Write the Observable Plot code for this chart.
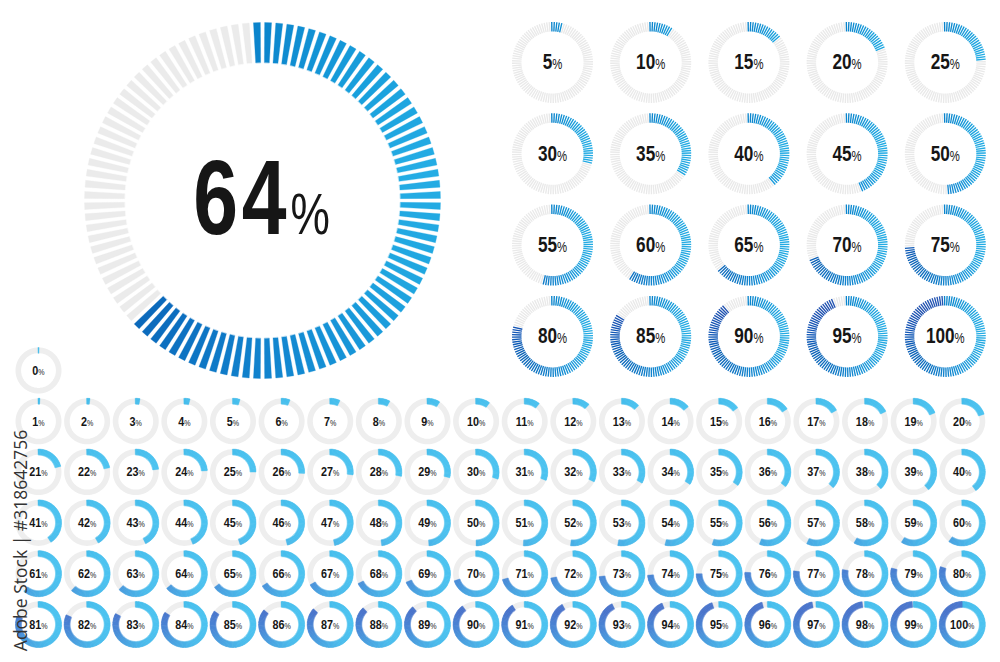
<!DOCTYPE html>
<html><head><meta charset="utf-8">
<script src="https://cdn.jsdelivr.net/npm/d3@7"></script>
<script src="https://cdn.jsdelivr.net/npm/@observablehq/plot@0.6"></script>
<style>html,body{margin:0;padding:0;background:#fff;overflow:hidden} svg{display:block}</style>
</head><body><div id="chart"></div>
<script>
// ---- data ----
const bigValue = 64;
const mediumValues = [5, 10, 15, 20, 25, 30, 35, 40, 45, 50, 55, 60, 65, 70, 75, 80, 85, 90, 95, 100];
const smallValues = [0,
  1, 2, 3, 4, 5, 6, 7, 8, 9, 10, 11, 12, 13, 14, 15, 16, 17, 18, 19, 20,
  21, 22, 23, 24, 25, 26, 27, 28, 29, 30, 31, 32, 33, 34, 35, 36, 37, 38, 39, 40,
  41, 42, 43, 44, 45, 46, 47, 48, 49, 50, 51, 52, 53, 54, 55, 56, 57, 58, 59, 60,
  61, 62, 63, 64, 65, 66, 67, 68, 69, 70, 71, 72, 73, 74, 75, 76, 77, 78, 79, 80,
  81, 82, 83, 84, 85, 86, 87, 88, 89, 90, 91, 92, 93, 94, 95, 96, 97, 98, 99, 100];
const segmentCount = 100;
const watermark = "Adobe Stock | #318642756";

// ---- styles / layout ----
const W = 1000, H = 662, TAU = Math.PI * 2;
const blue = d3.piecewise(d3.interpolateRgb, ["#0b84cc", "#189fdc", "#24ace4", "#20a6e0", "#1590d6", "#0e78c6", "#0a62b6", "#1456b6", "#1e4fae", "#2456b4"]);
const light = d3.piecewise(d3.interpolateRgb, ["#45bdec", "#4cc3f0", "#4cc3f0", "#4bbcec", "#49a6e2", "#4a88d6", "#4a74cb", "#4d78cd"]);
const grayBig = "#ebebeb", grayMed = "#e9e9e9", graySmall = "#eeeeee";
const pt = (cx, cy, r, f) => [cx + r * Math.sin(f * TAU), cy - r * Math.cos(f * TAU)];

// big ring wedges
const big = {cx: 262, cy: 200, ro: 178, ri: 138};
const bigRows = [];
for (let i = 0; i < segmentCount; i++) {
  const c = (i - 0.5) / segmentCount, h = 0.31 / segmentCount;
  const color = i < bigValue ? blue(i / segmentCount) : grayBig;
  const ps = [pt(big.cx, big.cy, big.ri, c - h * 0.92), pt(big.cx, big.cy, big.ro, c - h), pt(big.cx, big.cy, big.ro, c + h), pt(big.cx, big.cy, big.ri, c + h * 0.92)];
  ps.forEach(([x, y]) => bigRows.push({id: "b" + i, x, y, color}));
}

// medium rings ticks
const medTicks = [];
const medCenters = mediumValues.map((v, k) => ({v, cx: 552 + (k % 5) * 98.2, cy: 62 + Math.floor(k / 5) * 91.3}));
medCenters.forEach(({v, cx, cy}) => {
  for (let i = 0; i < segmentCount; i++) {
    const f = (i - 0.3) / segmentCount;
    const [x1, y1] = pt(cx, cy, 31, f), [x2, y2] = pt(cx, cy, 40.5, f);
    medTicks.push({x1, y1, x2, y2, color: i < v ? blue(i / segmentCount) : grayMed});
  }
});

// small rings
const smallCenters = smallValues.map((v) => {
  const row = v === 0 ? 0 : Math.floor((v - 1) / 20) + 1;
  const col = v === 0 ? 0 : (v - 1) % 20;
  return {v, cx: 38 + col * 48.62, cy: 370 + row * 50.8};
});
const smallRing = [];
smallCenters.forEach(({v, cx, cy}) => {
  for (let i = 0; i <= 72; i++) { const [x, y] = pt(cx, cy, 20.2, i / 72); smallRing.push({id: "r" + v, x, y}); }
});
const smallArc = [];
smallCenters.forEach(({v, cx, cy}) => {
  const start = -0.004, end = v === 0 ? 0.004 : v / 100;
  const n = Math.max(1, Math.ceil((end - start) * 100));
  for (let j = 0; j < n; j++) {
    const a0 = start + (end - start) * j / n, a1 = Math.min(end, start + (end - start) * (j + 1) / n + 0.003);
    const color = light(Math.max(0, (a0 + a1) / 2));
    [pt(cx, cy, 17.4, a0), pt(cx, cy, 23, a0), pt(cx, cy, 23, a1), pt(cx, cy, 17.4, a1)]
      .forEach(([x, y]) => smallArc.push({id: "s" + v + "_" + j, x, y, color}));
  }
});

const font = "'Liberation Sans',Arial,sans-serif";
const labels = [
  ...smallCenters.map(d => ({x: d.cx, y: d.cy, t: d.v + "%", s: 13.5})),
  ...medCenters.map(d => ({x: d.cx, y: d.cy, t: d.v + "%", s: 21.5})),
  {x: big.cx - 1, y: big.cy, t: bigValue + "%", s: 106}
];

const plot = Plot.plot({
  width: W, height: H,
  margin: 0,
  x: {domain: [0, W], range: [0, W], axis: null},
  y: {domain: [0, H], range: [0, H], axis: null},
  color: {type: "identity"},
  style: {background: "#ffffff"},
  marks: [
    Plot.line(bigRows, {x: "x", y: "y", z: "id", fill: "color", stroke: "color", strokeWidth: 0.3, curve: "linear-closed"}),
    Plot.link(medTicks, {x1: "x1", y1: "y1", x2: "x2", y2: "y2", stroke: "color", strokeWidth: 1.35}),
    Plot.line(smallRing, {x: "x", y: "y", z: "id", stroke: graySmall, strokeWidth: 5.6, curve: "linear"}),
    Plot.line(smallArc, {x: "x", y: "y", z: "id", fill: "color", stroke: "color", strokeWidth: 0.4, curve: "linear-closed"}),
    Plot.text([watermark], {x: () => 21, y: () => 540, text: d => d, rotate: -90, fontSize: 17.5, fill: "#333333", fontFamily: "'Open Sans','Liberation Sans',sans-serif"}),
    Plot.text(labels, {x: "x", y: "y", text: "t", fontSize: "s", fontWeight: "bold", fill: "#161616", fontFamily: font})
  ]
});

// split number and percent sign into two tspans (smaller, lighter %), condense glyphs horizontally
Array.from(plot.querySelectorAll("text")).filter(t => /^\d+%$/.test(t.textContent.trim())).forEach(t => {
  const s = t.textContent.trim();
  const num = s.slice(0, -1);
  const isBig = parseFloat(t.getAttribute("font-size")) > 60;
  t.textContent = "";
  const a = document.createElementNS("http://www.w3.org/2000/svg", "tspan");
  a.textContent = num;
  if (isBig) a.setAttribute("letter-spacing", "5");
  const b = document.createElementNS("http://www.w3.org/2000/svg", "tspan");
  b.textContent = "%";
  b.setAttribute("font-size", isBig ? "0.55em" : "0.66em");
  b.setAttribute("font-weight", "normal");
  t.appendChild(a); t.appendChild(b);
  const sx = isBig ? 0.76 : 0.8;
  const tr = t.getAttribute("transform") || "";
  t.setAttribute("transform", `${tr} scale(${sx},1)`);
});
document.getElementById("chart").appendChild(plot);
</script>
</body></html>
